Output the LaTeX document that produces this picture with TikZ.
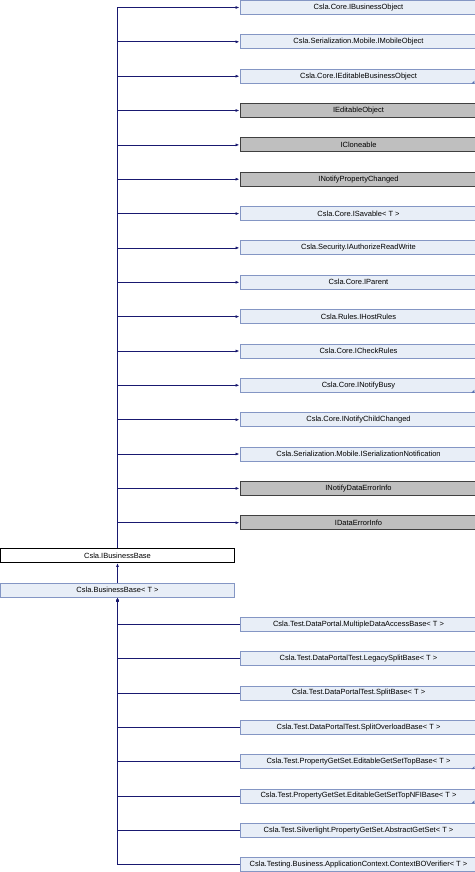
\documentclass[tikz,border=0pt]{standalone}
\usepackage{fontspec}
\setmainfont{Liberation Sans}
\usetikzlibrary{arrows.meta}
\definecolor{edgec}{HTML}{191970}
\definecolor{lfill}{HTML}{E8EEF7}
\definecolor{lborder}{HTML}{8496C4}
\definecolor{gfill}{HTML}{BFBFBF}
\definecolor{gborder}{HTML}{404040}
\definecolor{markc}{HTML}{5A70B0}
\tikzset{
  basebox/.style={draw, line width=0.9pt, inner sep=0pt, minimum width=234pt, minimum height=14pt,
    font=\fontsize{7.5}{8.5}\selectfont, text=black},
  rbox/.style={minimum width=237pt},
  lbox/.style={basebox, fill=lfill, draw=lborder},
  gbox/.style={basebox, fill=gfill, draw=gborder},
  wbox/.style={basebox, fill=white, draw=black},
  edge/.style={draw=edgec, line width=0.8pt, -{Latex[length=4pt,width=3pt]}},
  cmark/.style={fill=markc, draw=none}
}
\begin{document}
\begin{tikzpicture}[x=1pt,y=-1pt]
\fill[white] (0,0) rectangle (474,872);
\useasboundingbox (0,0) rectangle (474,872);
% upper interface boxes
\node[lbox,rbox] (u1) at (358.5,7.5) {Csla.Core.IBusinessObject};
\node[lbox,rbox] (u2) at (358.5,41.8) {Csla.Serialization.Mobile.IMobileObject};
\node[lbox,rbox] (u3) at (358.5,76.2) {Csla.Core.IEditableBusinessObject};
\node[gbox,rbox] (u4) at (358.5,110.5) {IEditableObject};
\node[gbox,rbox] (u5) at (358.5,144.9) {ICloneable};
\node[gbox,rbox] (u6) at (358.5,179.2) {INotifyPropertyChanged};
\node[lbox,rbox] (u7) at (358.5,213.6) {Csla.Core.ISavable< T >};
\node[lbox,rbox] (u8) at (358.5,247.9) {Csla.Security.IAuthorizeReadWrite};
\node[lbox,rbox] (u9) at (358.5,282.3) {Csla.Core.IParent};
\node[lbox,rbox] (u10) at (358.5,316.6) {Csla.Rules.IHostRules};
\node[lbox,rbox] (u11) at (358.5,351.0) {Csla.Core.ICheckRules};
\node[lbox,rbox] (u12) at (358.5,385.3) {Csla.Core.INotifyBusy};
\node[lbox,rbox] (u13) at (358.5,419.7) {Csla.Core.INotifyChildChanged};
\node[lbox,rbox] (u14) at (358.5,454.0) {Csla.Serialization.Mobile.ISerializationNotification};
\node[gbox,rbox] (u15) at (358.5,488.4) {INotifyDataErrorInfo};
\node[gbox,rbox] (u16) at (358.5,522.7) {IDataErrorInfo};
% central
\node[wbox] (ibb) at (117.5,555.5) {Csla.IBusinessBase};
\node[lbox] (bb) at (117.5,590) {Csla.BusinessBase< T >};
% lower derived boxes
\node[lbox,rbox] (l1) at (358.5,624.3) {Csla.Test.DataPortal.MultipleDataAccessBase< T >};
\node[lbox,rbox] (l2) at (358.5,658.6) {Csla.Test.DataPortalTest.LegacySplitBase< T >};
\node[lbox,rbox] (l3) at (358.5,693.0) {Csla.Test.DataPortalTest.SplitBase< T >};
\node[lbox,rbox] (l4) at (358.5,727.3) {Csla.Test.DataPortalTest.SplitOverloadBase< T >};
\node[lbox,rbox] (l5) at (358.5,761.7) {Csla.Test.PropertyGetSet.EditableGetSetTopBase< T >};
\node[lbox,rbox] (l6) at (358.5,796.0) {Csla.Test.PropertyGetSet.EditableGetSetTopNFIBase< T >};
\node[lbox,rbox] (l7) at (358.5,830.4) {Csla.Test.Silverlight.PropertyGetSet.AbstractGetSet< T >};
\node[lbox,rbox] (l8) at (358.5,864.7) {Csla.Testing.Business.ApplicationContext.ContextBOVerifier< T >};
% corner marks
\foreach \n in {u3,u12,l5,l6}{
  \fill[cmark] ([xshift=-3pt]\n.south east) -- ++(0,-3) -- ++(-3,3) -- cycle;
}
% edges to interfaces
\foreach \n in {u1,u2,u3,u4,u5,u6,u7,u8,u9,u10,u11,u12,u13,u14,u15,u16}{
  \draw[edge] (ibb.north) |- (\n.west);
}
\draw[edge] (bb.north) -- (ibb.south);
% derived classes
\foreach \n in {l1,l2,l3,l4,l5,l6,l7,l8}{
  \draw[edge] (\n.west) -| (bb.south);
}
\end{tikzpicture}
\end{document}
